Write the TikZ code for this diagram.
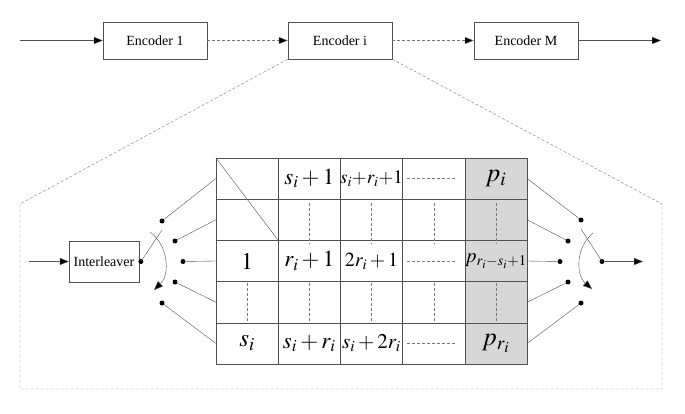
\documentclass[tikz,border=0pt]{standalone}
\usepackage{mathptmx}
\usepackage[no-math]{fontspec}
\setmainfont{Liberation Serif}
\usetikzlibrary{arrows.meta, positioning}
\definecolor{linegray}{RGB}{80,80,80}
\definecolor{cellgray}{RGB}{215,215,215}
\definecolor{dashgray}{RGB}{120,120,120}

\tikzset{
  box/.style={draw=linegray, minimum width=104pt, minimum height=37pt, inner sep=0pt, font=\fontsize{14}{16}\selectfont},
  cell/.style={draw=linegray, minimum width=62.2pt, minimum height=41.2pt, inner sep=0pt},
  contact/.style={circle, fill=black, inner sep=0pt, minimum size=5pt},
  arrowline/.style={draw=linegray, -{Triangle[length=9pt, width=7pt, fill=black]}},
  guide/.style={draw=dashgray, dash pattern=on 3pt off 2pt},
  bigmath/.style={font=\fontsize{23}{26}\selectfont},
}

\begin{document}
\begin{tikzpicture}[x=1pt, y=-1pt]
        \useasboundingbox (0,0) rectangle (685,414);

        % Encoder chain
        \node[box] (enc1) at (155,40.5) {Encoder 1};
        \node[box] (enci) at (340,40.5) {Encoder i};
        \node[box] (encm) at (526,40.5) {Encoder M};
        \coordinate (in) at (20,40.5);
        \coordinate (out) at (661,40.5);

        \draw[arrowline] (in) -- (enc1);
        \draw[arrowline, guide] (enc1) -- (enci);
        \draw[arrowline, guide] (enci) -- (encm);
        \draw[arrowline] (encm) -- (out);

        % Zoomed frame of encoder i
        \coordinate (tl) at (20,204);
        \coordinate (bl) at (20,389);
        \coordinate (br) at (662,389);
        \coordinate (tr) at (662,204);
        \draw[guide] (enci.south west) -- (tl) -- (bl) -- (br) -- (tr) -- (enci.south east);

        % Table cells
        \foreach \c/\f in {1/white, 2/white, 3/white, 4/white, 5/cellgray}
          \foreach \r in {1,...,5}
            \node[cell, fill=\f] (c\r\c) at ({216+62.2*(\c-0.5)},{158+41.2*(\r-0.5)}) {};
        \draw[linegray] (c11.north west) -- (c21.south east);

        % Table entries
        \node[bigmath] at (c12) {$s_i+1$};
        \node[font=\fontsize{19}{22}\selectfont] at (c13) {$s_i{+}r_i{+}1$};
        \node[font=\fontsize{26}{28}\selectfont] at (c15) {$p_i$};
        \node[font=\fontsize{24}{26}\selectfont] at (c31) {$1$};
        \node[bigmath] at (c32) {$r_i+1$};
        \node[font=\fontsize{20}{22}\selectfont] at (c33) {$2r_i+1$};
        \node[font=\fontsize{20}{22}\selectfont] at (c35) {$p_{r_i-s_i+1}$};
        \node[font=\fontsize{25}{28}\selectfont] at (c51) {$s_i$};
        \node[bigmath] at (c52) {$s_i+r_i$};
        \node[font=\fontsize{21}{24}\selectfont] at (c53) {$s_i+2r_i$};
        \node[font=\fontsize{26}{28}\selectfont] at (c55) {$p_{r_i}$};

        % Ellipsis marks
        \foreach \r in {1,3,5}
          \draw[guide] ([xshift=5pt]c\r4.west) -- ([xshift=-9pt]c\r4.east);
        \foreach \c in {2,...,5}
          \draw[guide] ([yshift=-4pt]c2\c.north) -- ([yshift=-3pt]c2\c.south);
        \foreach \c in {1,...,5}
          \draw[guide] ([yshift=-2pt]c4\c.north) -- ([yshift=1pt]c4\c.south);

        % Input switch
        \node[draw=linegray, minimum width=70pt, minimum height=41pt, inner sep=0pt, font=\fontsize{14}{16}\selectfont] (il) at (104,261.5) {Interleaver};
        \coordinate (src) at (29,261.5);
        \draw[arrowline] (src) -- (il);
        \node[contact, right=-1pt of il] (lpiv) {};
        \foreach \n/\x/\y in {1/162/221, 2/175/241, 3/183/261.5, 4/175/282, 5/162/303} {
          \node[contact] (l\n) at (\x,\y) {};
          \draw[linegray] (l\n) -- (c\n1.west);
        }
        \coordinate (larm) at (162,230);
        \draw[linegray] (lpiv.center) -- (larm);
        \coordinate (la1) at (150,232);
        \coordinate (la2) at (154,290);
        \draw[arrowline] (la1) to[bend left=50] (la2);

        % Output switch
        \foreach \n/\x/\y in {1/581/220, 2/568/241, 3/560/261.5, 4/568/282, 5/581/303} {
          \node[contact] (r\n) at (\x,\y) {};
          \draw[linegray] (c\n5.east) -- (r\n);
        }
        \node[contact] (rpiv) at (602,261.5) {};
        \coordinate (rarm) at (581,229);
        \draw[linegray] (rpiv.center) -- (rarm);
        \coordinate (ra1) at (593,233);
        \coordinate (ra2) at (592,289);
        \draw[arrowline] (ra1) to[bend right=50] (ra2);
        \coordinate (sink) at (643,261.5);
        \draw[arrowline] (rpiv) -- (sink);
    \end{tikzpicture}
\end{document}
